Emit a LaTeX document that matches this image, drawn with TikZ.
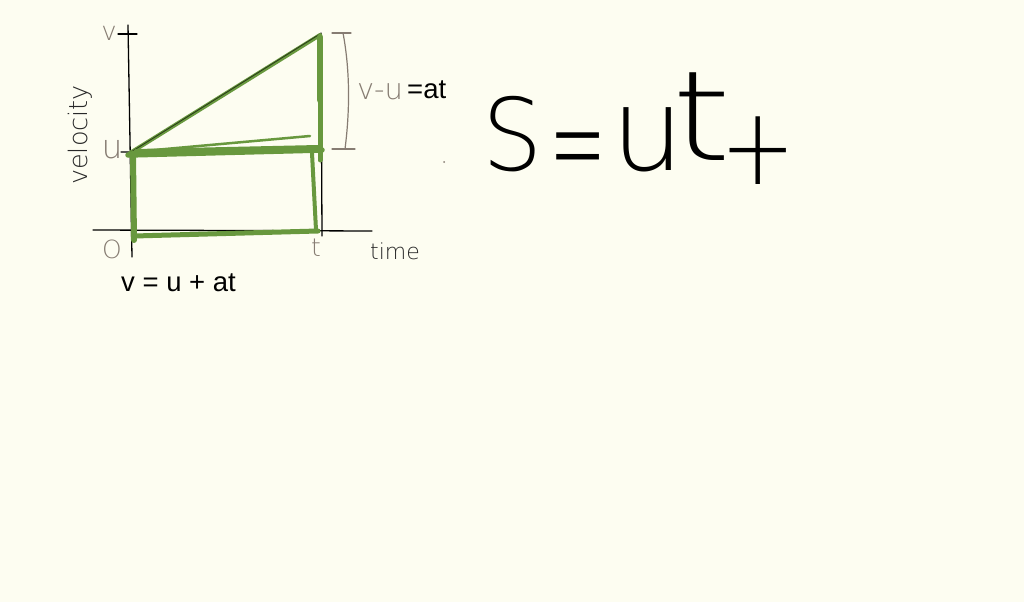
\documentclass[tikz,border=0pt]{standalone}
\usepackage{fontspec}
\setmainfont{Liberation Sans}
\newfontfamily\penfont{DejaVu Sans ExtraLight}
\definecolor{paper}{RGB}{253,253,241}
\definecolor{chalkgreen}{RGB}{104,152,62}
\definecolor{penbrown}{RGB}{134,124,114}
\definecolor{inkdark}{RGB}{40,40,40}
\tikzset{
  axisline/.style={draw=black,line width=1.3pt,line cap=round},
  greenline/.style={draw=chalkgreen,line cap=round,line join=round},
  hand/.style={inner sep=0pt,text=penbrown},
  typed/.style={inner sep=0pt,text=black,anchor=base west,font=\fontsize{27.5}{27.5}\selectfont},
  bigpen/.style={inner sep=0pt,text=black,anchor=base west}
}
\begin{document}
\begin{tikzpicture}[x=1pt,y=-1pt]
\fill[paper] (0,0) rectangle (1024,602);
\useasboundingbox (0,0) rectangle (1024,602);
% axes
\draw[axisline] (128,25) -- (132,257);
\draw[axisline] (118,34) -- (137,34);
\draw[axisline] (93,230) -- (372,231);
\draw[axisline] (321,33) -- (322,236);
\draw[axisline] (121,152) -- (322,151);
% bracket
\draw[penbrown,line width=1.2pt,line cap=round] (332,33) -- (351,33);
\draw[penbrown,line width=1.2pt,line cap=round] (343,33) .. controls (350,70) and (350,110) .. (345,149);
\draw[penbrown,line width=1.2pt,line cap=round] (332,149) -- (355,149);
% green strokes
\draw[greenline,line width=4pt] (130,153) -- (320,35);
\draw[black,opacity=0.6,line width=0.9pt] (131,152) -- (320,34);
\draw[greenline,line width=6.5pt] (320,37) -- (320,100);
\draw[greenline,line width=5pt] (320,90) -- (320,160);
\draw[greenline,line width=2.5pt] (132,152) -- (310,136);
\draw[greenline,line width=5.5pt] (128,155) -- (322,150);
\draw[greenline,line width=4pt] (136,151) -- (318,147);
\draw[greenline,line width=6pt] (133,154) -- (134,240);
\draw[greenline,line width=5pt] (134,236) -- (318,231);
\draw[greenline,line width=4pt] (312,153) -- (316,230);
% dot
\fill[penbrown] (444,162) circle (1pt);
% handwritten labels
\node[hand,font={\penfont\fontsize{26}{26}\selectfont}] (lv) at (109,33) {v};
\node[hand,font={\penfont\fontsize{33}{33}\selectfont}] (lu) at (112,150) {u};
\node[hand,font={\penfont\fontsize{25}{25}\selectfont}] (lo) at (112,249) {O};
\node[hand,font={\penfont\fontsize{25}{25}\selectfont}] (lt) at (316,248) {t};
\node[hand,text=inkdark,font={\penfont\fontsize{22}{22}\selectfont}] (ltime) at (395,251) {time};
\node[hand,text=inkdark,rotate=90,font={\penfont\fontsize{25.5}{25.5}\selectfont}] (lvel) at (80,135) {velocity};
\node[hand,font={\penfont\fontsize{29}{29}\selectfont}] (lvu) at (380,92) {v-u};
% typed text
\node[typed] (eqat) at (407,98) {=at};
\node[typed] (eqv) at (121,291) {v = u + at};
% big handwritten equation
\node[bigpen,font=\penfont] (big) at (482,170) {{\fontsize{100}{100}\selectfont\scalebox{0.95}[1]{S}}\kern7.2pt{\fontsize{110}{110}\selectfont\raisebox{-19.5pt}{\scalebox{0.62}[1.25]{=}}}\kern5.1pt{\fontsize{115}{115}\selectfont u}\kern-12.5pt{\fontsize{125}{125}\selectfont\raisebox{10pt}{\scalebox{1.2}[1]{t}}}\kern-10.3pt{\fontsize{90}{90}\selectfont\raisebox{-14pt}{\scalebox{1}[1.2]{+}}}};
\end{tikzpicture}
\end{document}
